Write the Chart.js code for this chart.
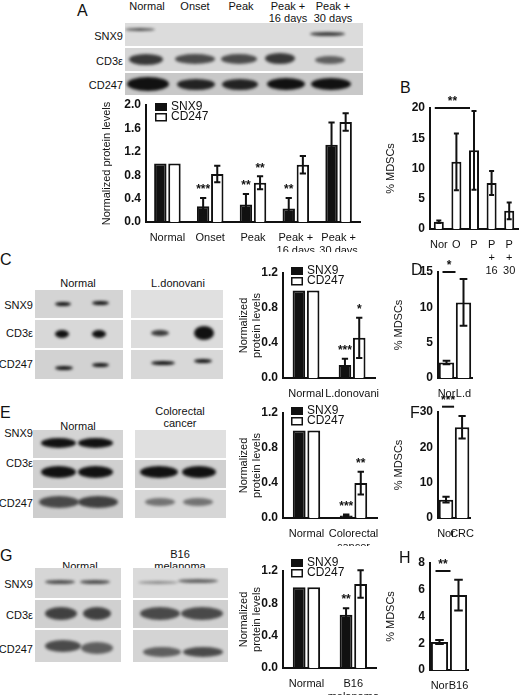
<!DOCTYPE html>
<html><head><meta charset="utf-8">
<script src="https://cdn.jsdelivr.net/npm/chart.js@4.4.1/dist/chart.umd.min.js"></script>
<style>
body{margin:0;width:520px;height:695px;position:relative;background:#fff;font-family:"Liberation Sans",Arial,sans-serif;overflow:hidden}
.c{position:absolute}
.t{position:absolute;font-size:11px;color:#111;white-space:nowrap;line-height:12px;text-align:center;transform:translateX(-50%)}
.r{position:absolute;font-size:11px;color:#111;white-space:nowrap;line-height:12px;transform:translateX(-100%)}
.L{position:absolute;font-size:16px;color:#111;line-height:16px}
.blot{position:absolute;background:#d6d6d6;overflow:hidden}
.band{position:absolute;background:#111;border-radius:50%;filter:blur(1.5px)}
</style></head><body>
<script>
// ---------- data ----------
const catsA = ["Normal","Onset","Peak",["Peak +","16 days"],["Peak +","30 days"]];
const snxA = [1.0,0.27,0.30,0.23,1.32];
const snxAerr = [0,0.14,0.18,0.18,0.38];
const cdA = [1.0,0.82,0.67,0.98,1.71];
const cdAerr = [0,0.14,0.11,0.15,0.15];
const starsA = [["",""],["***",""],["**","**"],["**",""],["",""]];

const catsB = ["Nor","O","P",["P","+","16"],["P","+","30"]];
const valsB = [1.2,11.1,13.0,7.6,3.0];
const errB = [0.2,4.7,6.5,2.0,1.4];

const catsC = ["Normal","L.donovani"];
const snxC = [1.0,0.15]; const snxCerr=[0,0.07];
const cdC = [1.0,0.46]; const cdCerr=[0,0.23];
const starsC = [["",""],["***","*"]];
const catsD = ["Nor","L.d"]; const valsD=[2.2,10.7]; const errD=[0.25,3.3];

const catsE = ["Normal",["Colorectal","cancer"]];
const snxE = [1.0,0.03]; const snxEerr=[0,0.01];
const cdE = [1.0,0.40]; const cdEerr=[0,0.13];
const starsE = [["",""],["***","**"]];
const catsF = ["Nor","CRC"]; const valsF=[5.2,25.7]; const errF=[0.8,3.2];

const catsG = ["Normal",["B16","melanoma"]];
const snxG = [1.0,0.66]; const snxGerr=[0,0.08];
const cdG = [1.0,1.04]; const cdGerr=[0,0.17];
const starsG = [["",""],["**",""]];
const catsH = ["Nor","B16"]; const valsH=[2.1,5.6]; const errH=[0.15,1.15];

// ---------- helpers ----------
const F = '"Liberation Sans",Arial,sans-serif';
function txt(x,y,s,cls){const d=document.createElement('div');d.className=cls||'t';d.style.left=x+'px';d.style.top=y+'px';d.innerHTML=s;document.body.appendChild(d);return d;}
function blot(x,y,w,h,bands,bg){const b=document.createElement('div');b.className='blot';Object.assign(b.style,{left:x+'px',top:y+'px',width:w+'px',height:h+'px',background:bg||'#d8d8d8'});
 bands.forEach(a=>{const e=document.createElement('div');e.className='band';Object.assign(e.style,{left:a[0]+'px',top:a[1]+'px',width:a[2]+'px',height:a[3]+'px',opacity:a[4]||1});b.appendChild(e);});document.body.appendChild(b);}

const errPlugin={id:'err',afterDatasetsDraw(ch){const ctx=ch.ctx;ctx.save();ctx.strokeStyle='#111';ctx.lineWidth=2;ctx.fillStyle='#111';
 ch.data.datasets.forEach((ds,di)=>{const m=ch.getDatasetMeta(di);const ys=ch.scales.y;
  m.data.forEach((bar,i)=>{const e=ds.err?ds.err[i]:0;const v=ds.data[i];const w=bar.width*0.5;let top=ys.getPixelForValue(v);
   if(e>0){const y1=ys.getPixelForValue(v+e),y2=ys.getPixelForValue(Math.max(0,v-e));top=y1;
    ctx.beginPath();ctx.moveTo(bar.x,y1);ctx.lineTo(bar.x,y2);ctx.moveTo(bar.x-w/2,y1);ctx.lineTo(bar.x+w/2,y1);ctx.moveTo(bar.x-w/2,y2);ctx.lineTo(bar.x+w/2,y2);ctx.stroke();}
   if(ds.stars&&ds.stars[i]){ctx.font='bold 12px '+F;ctx.textAlign='center';ctx.textBaseline='bottom';ctx.fillText(ds.stars[i],bar.x,top-2);}
  });});
 const sig=ch.options.plugins.sig;if(sig){const m=ch.getDatasetMeta(0);const y=ch.scales.y.getPixelForValue(sig.v);const x1=m.data[sig.a].x-4,x2=m.data[sig.b].x+(sig.dx||0);
  ctx.beginPath();ctx.moveTo(x1,y);ctx.lineTo(x2,y);ctx.stroke();ctx.font='bold 12px '+F;ctx.textAlign='center';ctx.textBaseline='bottom';ctx.fillText(sig.s,(x1+x2)/2,y);}
 const lg=ch.options.plugins.lg;if(lg){const x=ch.chartArea.left+lg.dx,y=ch.chartArea.top+lg.dy;ctx.font='12px '+F;ctx.textAlign='left';ctx.textBaseline='middle';
  ctx.fillRect(x,y-4,12,8);ctx.fillText('SNX9',x+16,y);ctx.lineWidth=1.5;ctx.strokeRect(x+0.75,y+6.75,10.5,7);ctx.fillText('CD247',x+16,y+10);}
 ctx.restore();}};

// axisX/topY/rightX/bottomY = plot area in page px
function mk(axisX,topY,rightX,bottomY,xh,labels,datasets,ymax,step,ytitle,extra){
 const W=46,PT=16;const left=axisX-W,top=topY-PT,w=rightX-left+4,h=bottomY-top+xh;
 const c=document.createElement('canvas');c.className='c';c.style.left=left+'px';c.style.top=top+'px';c.style.width=w+'px';c.style.height=h+'px';c.width=w;c.height=h;document.body.appendChild(c);
 new Chart(c,{type:'bar',data:{labels,datasets},plugins:[errPlugin],options:{responsive:false,animation:false,devicePixelRatio:1,
  layout:{padding:{top:PT,right:4,left:0,bottom:0}},
  plugins:Object.assign({legend:{display:false},tooltip:{enabled:false}},extra||{}),
  scales:{x:{grid:{display:false},border:{color:'#111',width:2},afterFit:s=>{s.height=xh;},
    ticks:{color:'#111',font:{family:F,size:11},maxRotation:0,autoSkip:false,padding:1}},
   y:{min:0,max:ymax,grid:{display:false,drawTicks:true,tickLength:4,color:'#111',lineWidth:2},border:{color:'#111',width:2},afterFit:s=>{s.width=W;},
    ticks:{stepSize:step,color:'#111',font:{family:F,size:12,weight:'bold'},padding:1,callback:v=>extra&&extra.fmt?v.toFixed(1):v},
    title:{display:true,text:ytitle,color:'#111',font:{family:F,size:11},padding:0}}}}});}

function pair(snx,snxE,cd,cdE,stars,cp){return [
 {data:snx,err:snxE,stars:stars.map(s=>s[0]),backgroundColor:'#111',borderColor:'#111',borderWidth:2,categoryPercentage:cp,barPercentage:0.88},
 {data:cd,err:cdE,stars:stars.map(s=>s[1]),backgroundColor:'#fff',borderColor:'#111',borderWidth:2,categoryPercentage:cp,barPercentage:0.88}];}
function single(v,e,cp){return [{data:v,err:e,backgroundColor:'#fff',borderColor:'#111',borderWidth:2,categoryPercentage:cp,barPercentage:0.95}];}

// ---------- panel A ----------
txt(77,3,'A','L');
[['Normal',147],['Onset',195],['Peak',241],['Peak +<br>16 days',288],['Peak +<br>30 days',333]].forEach(a=>txt(a[1],0,a[0]));
txt(123,30,'SNX9','r');txt(123,55,'CD3ε','r');txt(123,79,'CD247','r');
blot(125,23,238,23,[[0,5,30,3,0.7],[185,9,35,4,0.8]],'#dcdcdc');
blot(125,48,238,23,[[4,6,34,11,0.8],[50,6,40,10,0.7],[96,6,36,10,0.7],[140,5,30,11,0.8],[190,8,30,8,0.6]],'#d6d6d6');
blot(125,73,238,22,[[2,4,42,14],[52,6,38,11,0.9],[97,6,36,11,0.9],[142,5,38,12],[186,5,40,12]],'#c8c8c8');
mk(146,105,360,222,30,catsA,pair(snxA,snxAerr,cdA,cdAerr,starsA,0.66),2.0,0.4,'Normalized protein levels',{fmt:1,lg:{dx:9,dy:2}});

// ---------- panel B ----------
txt(400,80,'B','L');
mk(430,108,518,229,58,catsB,single(valsB,errB,0.6),20,5,'% MDSCs',{sig:{a:0,b:2,v:20,s:'**',dx:-4}});

// ---------- panel C ----------
txt(0,252,'C','L');
txt(78,277,'Normal');txt(178,277,'L.donovani');
txt(33,299,'SNX9','r');txt(33,327,'CD3ε','r');txt(33,358,'CD247','r');
blot(35,290,88,28,[[20,12,16,4],[57,11,17,4]],'#d4d4d4');
blot(35,320,88,28,[[20,10,14,8],[57,10,14,8]],'#d8d8d8');
blot(35,350,88,29,[[20,16,18,4],[57,13,17,4]],'#d2d2d2');
blot(131,290,92,28,[],'#e0e0e0');
blot(131,320,92,28,[[20,10,18,6,0.8],[63,6,20,14]],'#dcdcdc');
blot(131,350,92,29,[[20,11,24,4],[63,9,18,4]],'#d8d8d8');
mk(283,273,377,378,28,catsC,pair(snxC,snxCerr,cdC,cdCerr,starsC,0.62),1.2,0.4,['Normalized','protein levels'],{fmt:1,lg:{dx:8,dy:-2}});
txt(411,262,'D','L');
mk(438,272,472,378,30,catsD,single(valsD,errD,0.95),15,5,'% MDSCs',{sig:{a:0,b:1,v:15,s:'*',dx:-8}});

// ---------- panel E ----------
txt(0,405,'E','L');
txt(78,420,'Normal');txt(180,405,'Colorectal<br>cancer');
txt(33,427,'SNX9','r');txt(33,457,'CD3ε','r');txt(33,497,'CD247','r');
blot(33,430,90,28,[[8,8,35,10],[45,8,35,10]],'#d4d4d4');
blot(33,460,90,28,[[8,6,35,12],[45,6,35,12]],'#d0d0d0');
blot(33,490,90,28,[[6,6,40,12,0.7],[45,6,40,12,0.75]],'#cdcdcd');
blot(135,430,91,28,[],'#e0e0e0');
blot(135,460,91,28,[[5,6,38,12],[47,6,34,12]],'#d0d0d0');
blot(135,490,91,28,[[10,8,30,8,0.5],[48,8,30,8,0.5]],'#d6d6d6');
mk(283,413,377,518,28,catsE,pair(snxE,snxEerr,cdE,cdEerr,starsE,0.62),1.2,0.4,['Normalized','protein levels'],{fmt:1,lg:{dx:8,dy:-2}});
txt(410,405,'F','L');
mk(438,412,472,518,30,catsF,single(valsF,errF,0.95),30,10,'% MDSCs',{sig:{a:0,b:1,v:31.5,s:'***',dx:-8}});

// ---------- panel G ----------
txt(0,548,'G','L');
txt(80,560,'Normal');txt(180,548,'B16<br>melanoma');
txt(33,578,'SNX9','r');txt(33,609,'CD3ε','r');txt(33,643,'CD247','r');
blot(35,568,86,30,[[10,12,30,4,0.7],[45,12,30,4,0.7]],'#d6d6d6');
blot(35,600,86,28,[[10,7,32,13,0.75],[48,7,28,13,0.75]],'#d0d0d0');
blot(35,630,86,32,[[10,10,36,12,0.7],[46,12,32,12,0.6]],'#d4d4d4');
blot(133,568,95,30,[[5,13,40,3,0.4],[45,11,40,4,0.6]],'#dadada');
blot(133,600,95,28,[[7,7,40,13,0.7],[48,7,42,13,0.7]],'#d0d0d0');
blot(133,630,95,32,[[10,17,38,10,0.6],[50,17,40,10,0.7]],'#d4d4d4');
mk(283,571,377,668,27,catsG,pair(snxG,snxGerr,cdG,cdGerr,starsG,0.62),1.2,0.4,['Normalized','protein levels'],{fmt:1,lg:{dx:8,dy:-8}});
txt(399,550,'H','L');
mk(430,563,468,670,25,catsH,single(valsH,errH,0.95),8,2,'% MDSCs',{sig:{a:0,b:1,v:7.4,s:'**',dx:-8}});
</script></body></html>
